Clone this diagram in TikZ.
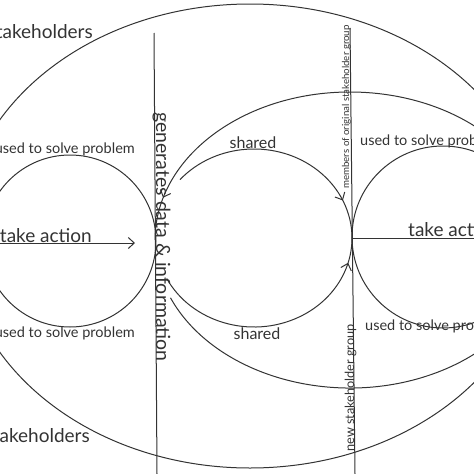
\documentclass[tikz,border=0pt]{standalone}
\usepackage{fontspec}
\setmainfont{Lato}
\usetikzlibrary{arrows.meta, decorations.markings}
\tikzstyle{ring} = [draw, line width=1pt, black!80]
\tikzstyle{axis} = [draw, line width=1pt, black!80]
\tikzstyle{tag}  = [inner sep=0pt, text=black!80]
\tikzstyle{flow} = [ring, -{Straight Barb[length=6pt, width=11pt]}]
\tikzset{flowat/.style = {ring, postaction={decorate}, decoration={markings, mark=at position #1 with {\arrow{Straight Barb[length=6pt, width=11pt]}}}}}
\newcommand{\fsz}[1]{\fontsize{#1}{#1}\selectfont}

\begin{document}
\begin{tikzpicture}[x=1pt, y=-1pt]
    \useasboundingbox (0,0) rectangle (474,474);
    \clip (0,0) rectangle (474,474);
    % centres of the loops
    \coordinate (outer) at (250,236);
    \coordinate (wide)  at (350,240);
    \coordinate (lc)    at (70,241);
    \coordinate (mc)    at (254,238);
    \coordinate (rc)    at (443,237);
    \coordinate (touch) at (352,238);
    % the two group lines
    \coordinate (gtop) at (154,33);
    \coordinate (gbot) at (157,474);
    \coordinate (ntop) at (350,28);
    \coordinate (nbot) at (355,474);
    \path[axis] (gtop) -- (gbot);
    \path[axis] (ntop) -- (nbot);
    % loops
    \path[ring] (outer) ellipse [x radius=289, y radius=232];
    \path[ring] (lc) circle [radius=86];
    \path[ring] (rc) circle [radius=91];
    \path[flowat=0.83] ([shift={(-139:98 and 89)}]mc) arc [start angle=-139, end angle=0, x radius=98, y radius=89];
    \path[flowat=0.9] ([shift={(153:98 and 89)}]mc) arc [start angle=153, end angle=0, x radius=98, y radius=89];
    \path[flowat=0.9] ([shift={(-40:195 and 148)}]wide) arc [start angle=-40, end angle=-180, x radius=195, y radius=148];
    \path[ring] ([shift={(157:195 and 148)}]wide) arc [start angle=157, end angle=40, x radius=195, y radius=148];
    % take action
    \coordinate (actin)  at (-10,243);
    \coordinate (acttip) at (135,243);
    \coordinate (actout) at (474,238);
    \path[flow] (actin) -- (acttip);
    \path[ring] (touch) -- (actout);
    % labels
    \node[tag, anchor=base east] (sh1) at (93,38) {\fsz{19}stakeholders};
    \node[tag, anchor=base east] (sh2) at (90,442) {\fsz{19}stakeholders};
    \node[tag, anchor=base east] (us1) at (135,153) {\fsz{14.5}used to solve problem};
    \node[tag, anchor=base east] (us2) at (135,337) {\fsz{14.5}used to solve problem};
    \node[tag, anchor=base] (sd1) at (253,148) {\fsz{16}shared};
    \node[tag, anchor=base] (sd2) at (257,339) {\fsz{16}shared};
    \node[tag, anchor=base west] (us3) at (360,145) {\fsz{14.5}used to solve problem};
    \node[tag, anchor=base west] (us4) at (365,330) {\fsz{14.5}used to solve problem};
    \node[tag, anchor=base east] (ta1) at (92,242) {\fsz{19}take action};
    \node[tag, anchor=base west] (ta2) at (408,236) {\fsz{19}take action};
    \node[tag, anchor=base, rotate=-90] (gen) at (156,237) {\fsz{19.5}generates data \& information};
    \node[tag, anchor=base, rotate=90] (mem) at (349,107) {\fsz{9.7}members of original stakeholder group};
    \node[tag, anchor=base, rotate=90] (new) at (354,388) {\fsz{12.7}new stakeholder group};
\end{tikzpicture}
\end{document}
